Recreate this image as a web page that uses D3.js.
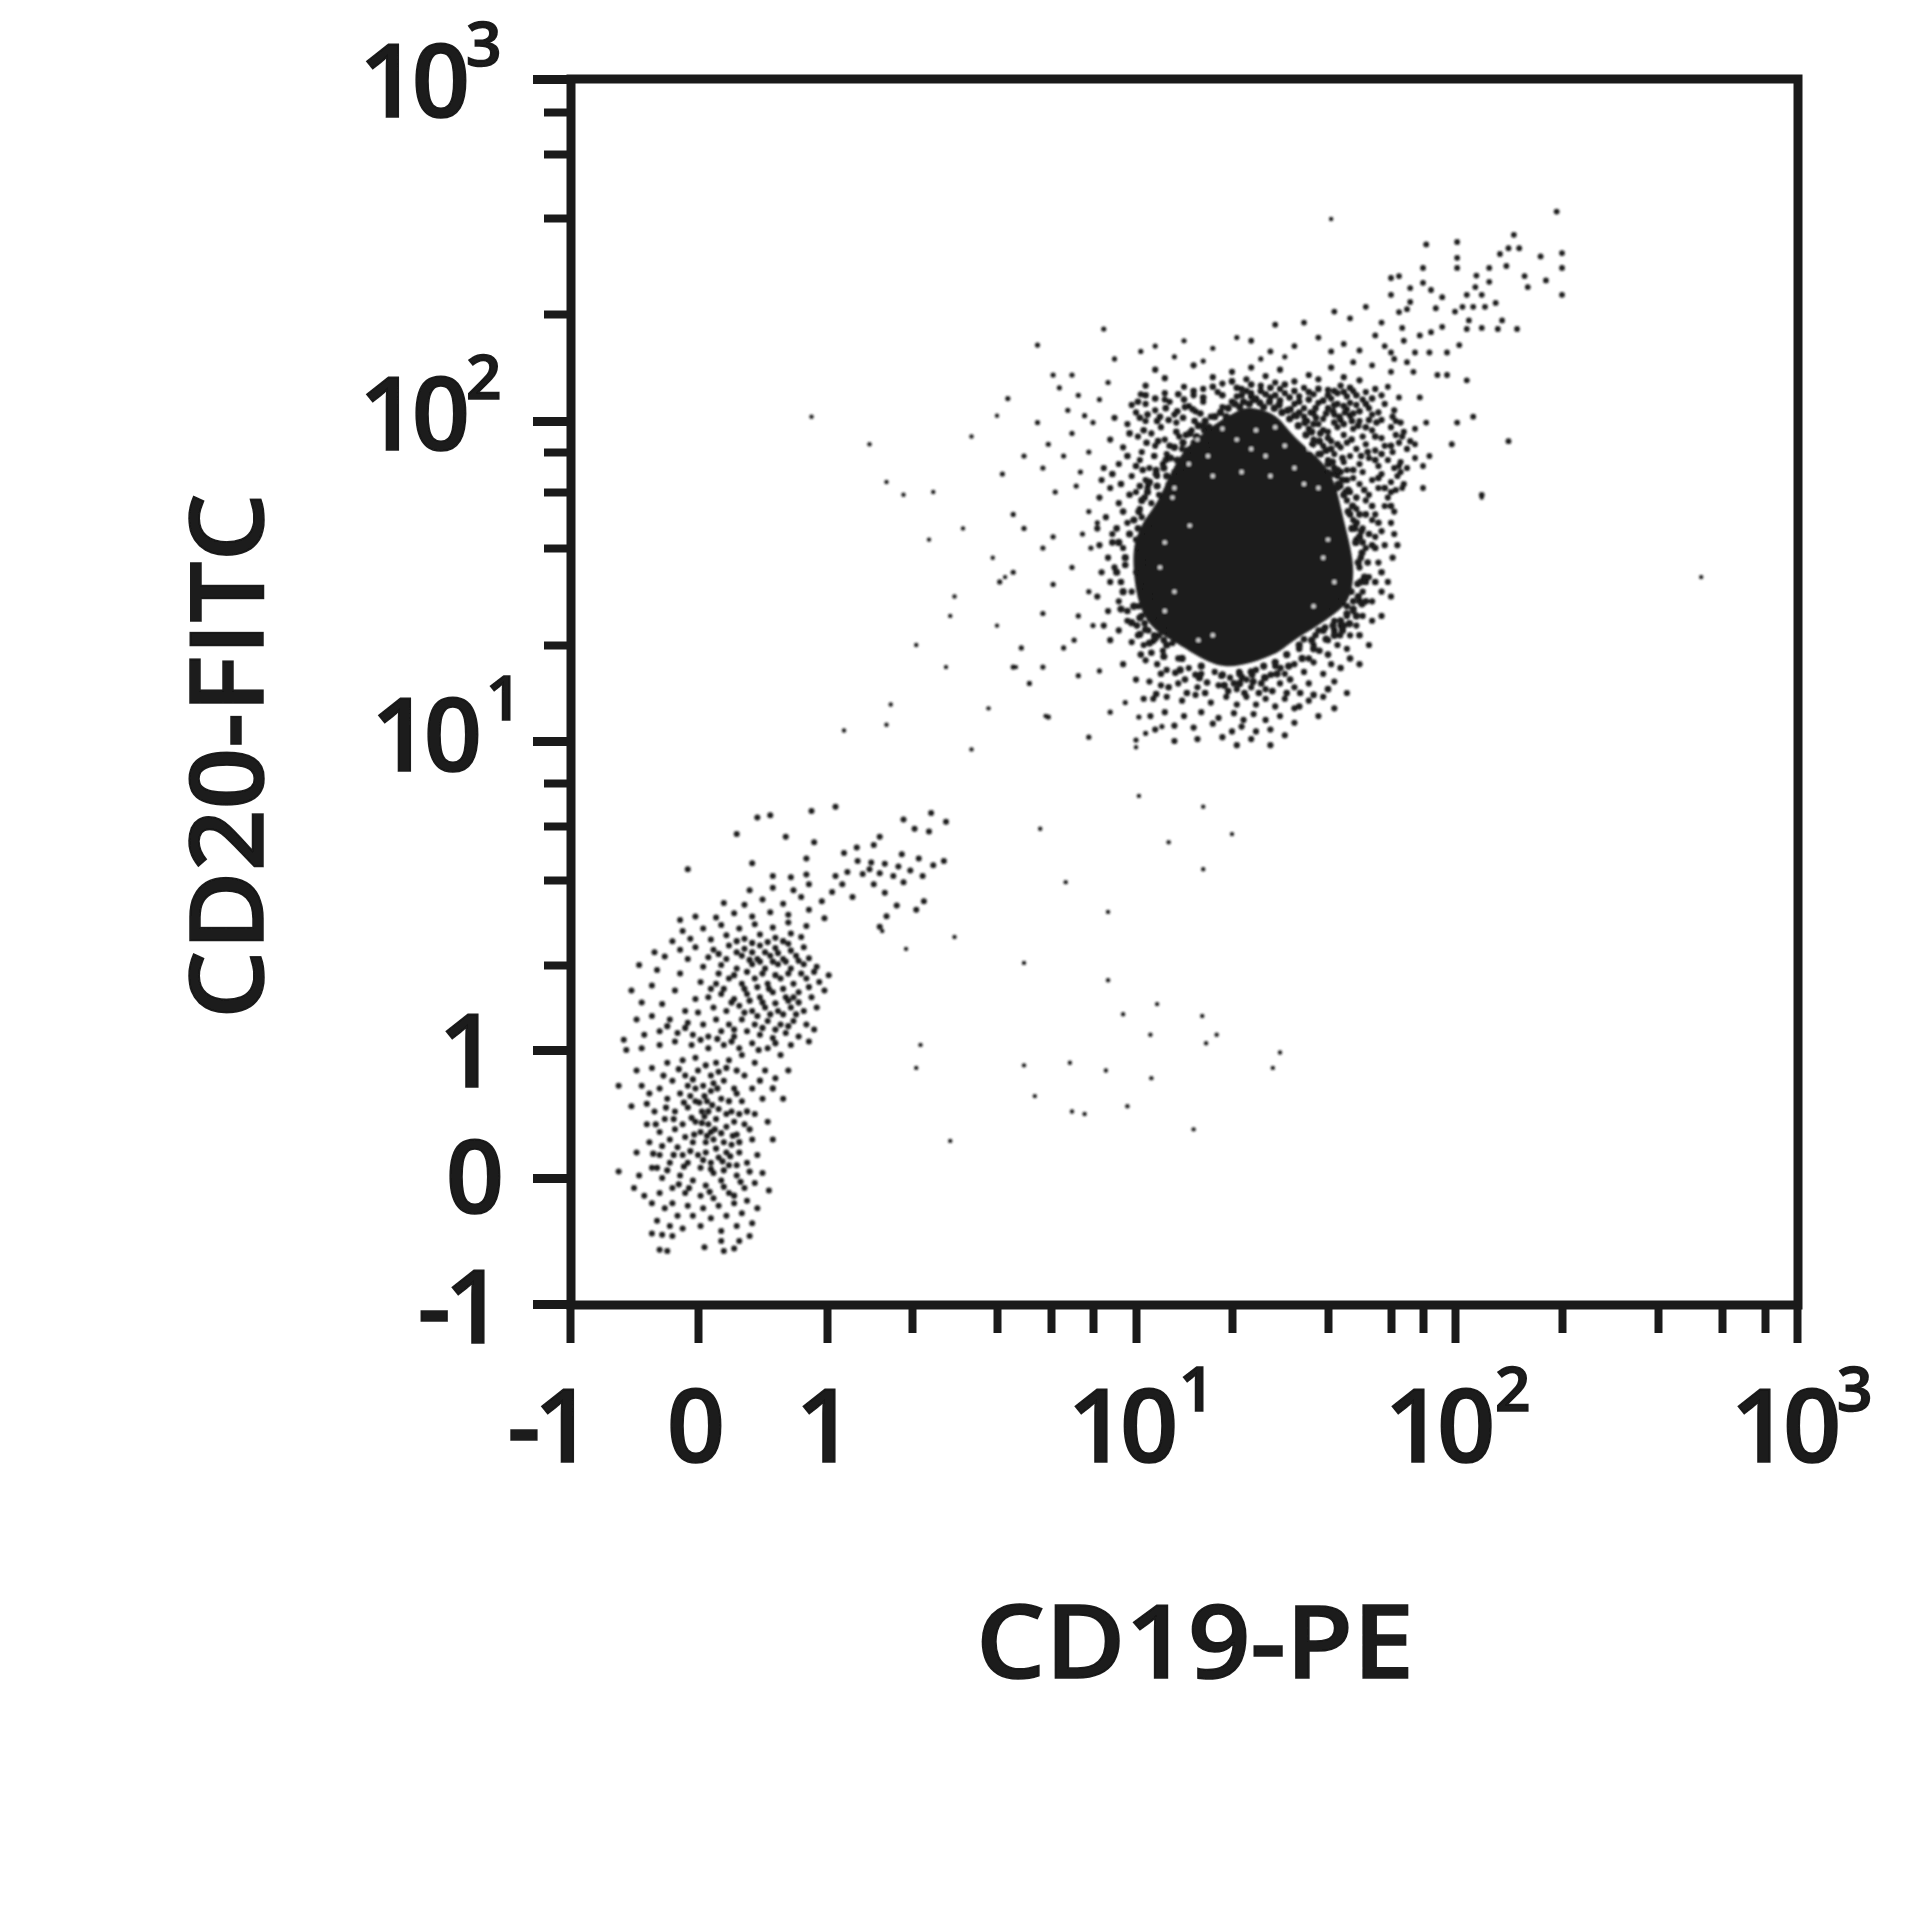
<!DOCTYPE html>
<html><head><meta charset="utf-8"><style>html,body{margin:0;background:#fff}svg{display:block}</style>
<script src="https://cdn.jsdelivr.net/npm/d3@7"></script></head><body><script>
const xTitle="CD19-PE", yTitle="CD20-FITC";
const axisValues=[-1,0,1,2,4,6,8,10,20,40,60,80,100,200,400,600,800,1000];
const majorTicks=[-1,0,1,10,100,1000];
const minorTicks=[2,4,6,8,20,40,60,80,200,400,600,800];
const coreX=[19.9,23,28.5,33,40.3,45,48,46,40.3,33,28.5,19.2,14.2,11.6,10.3,9.9,10.6,12.2,14.8,17.4];
const coreY=[106,112,106,90,70,50,35,29,25.6,21,19,17.8,20.4,24,29,39.4,48,56.5,79,94];
const coreGaps=[[19,95],[21,88],[24,82],[27,78],[31,84],[33,72],[15.5,74],[18,68],[14,62],[22,70],[28,68],[15.6,48],[13,42],[12.5,36],[14,31],[13,27],[39,38],[40,43],[37,28],[42,33],[18,22],[16.5,21],[35,64],[13.8,58],[25,94],[29,96],[16.4,88],[17.5,78],[36,82],[38,62]];
const coreEdge=[[9.4,31],[9.1,35],[9.5,38],[9.2,42],[9.7,45],[9.9,50],[10.3,53],[10.6,57],[11.2,60],[11.4,65],[12.2,63],[12.1,69],[12.9,72],[13.2,68],[13.6,77],[14.3,76],[14,83],[14.9,86],[15.4,81],[15.6,92],[16.3,90],[16.5,97],[17.2,100],[17.6,96],[18.2,104],[18.8,108],[19.4,104],[19.6,112],[20.6,116],[21.6,113],[22.4,118],[23.6,116],[24.6,120],[25.8,117],[26.6,113],[27.8,118],[28.8,112],[29.8,115],[30.4,108],[31.6,110],[32,102],[33.4,105],[33.8,97],[35.2,99],[35.4,91],[36.6,93],[36.8,85],[38.2,87],[38.4,79],[39.6,81],[40,74],[41.4,75],[41.6,69],[43,71],[43.2,64],[44.6,66],[45,59],[46.4,61],[46.4,53],[47.8,55],[47.6,47],[49,49],[48.8,42],[50,44],[49.6,37],[50.8,39],[50.4,33],[51.6,34],[49.6,30],[50.8,28.5],[48,27.4],[49,26],[46,26.4],[46.8,24.4],[44,25],[44.6,23],[41.6,24],[42,22],[39,23],[39.6,21.2],[36.6,21],[37,19.6],[34,20],[34.6,18.6],[31.4,19],[31.8,17.8],[29,18.2],[29.4,17],[26.6,17.8],[26.8,16.6],[24,17.2],[24.4,16.2],[21.6,17],[21.6,16],[19,16.9],[19.2,15.8],[16.8,17.8],[16.6,16.6],[14.8,18.6],[14.6,17.4],[13.2,20],[12.9,18.8],[12,21.4],[11.4,20.4],[11,23.2],[10.4,22.2],[10.4,25.6],[9.8,24.6],[9.9,28],[9.3,27.4]];
const halo=[[12,148],[16,152],[20,146],[24,150],[30,148],[36,143],[41,150],[13,140],[18,141],[23,139],[27,142],[33,137],[38,139],[45,141],[50,138],[11,133],[15,132],[19,135],[22,130],[26,133],[30,130],[35,131],[40,129],[44,133],[48,128],[55,130],[10.5,125],[13,126],[16,124],[18.5,127],[21,123],[24,126],[28,122],[31,126],[34,123],[37,125],[41,121],[46,123],[51,120],[57,124],
[11,116],[13.5,118],[15.5,114],[17,118],[19,113],[33,116],[35,112],[38,117],[40,112],[43,116],[46,111],[49,115],[53,112],[58,116],[62,110],[10,108],[12,110],[14,106],[16.2,109],[17.8,104],[35,104],[37,107],[39,102],[42,106],[44,101],[47,105],[50,100],[54,106],[57,101],[61,104],[66,99],
[9.6,98],[11,100],[12.6,96],[14.2,99],[15.8,94],[17,97],[36,95],[38,98],[40,93],[43,96],[45,91],[48,95],[51,90],[54,94],[57,89],[60,96],[63,91],[68,93],[10.2,90],[11.6,92],[13,88],[14.5,90],[16,86],[17.4,84],[37,88],[39,84],[41,87],[44,83],[46,86],[49,82],[52,85],[55,81],[58,84],[61,80],[65,86],[70,82],[9.4,83],[10.6,80],[12,84],[13.2,79],[14.8,82],[16,77],
[38,79],[40,76],[42,79],[45,75],[47,78],[50,74],[53,77],[56,73],[59,76],[62,72],[66,75],[9.2,74],[10.4,76],[11.4,72],[12.8,74],[14,70],[15.2,72],[40,70],[43,68],[46,71],[48,67],[51,70],[54,66],[57,69],[60,65],[64,68],[68,64],[9.8,68],[11,66],[12.2,68],[13.4,64],[44,63],[47,60],[50,64],[53,59],[56,62],[59,58],[63,61],[8.8,62],[10,60],[11.2,62],[12.4,59],[9.2,56],[10.4,54],[11.6,56],[46,57],[49,54],[52,57],[55,52],[58,55],[62,53],
[8.6,51],[9.6,49],[10.6,51],[11.4,47],[48,50],[51,47],[54,50],[57,46],[60,49],[8.9,45],[10,43],[11,44],[9.4,40],[10.4,39],[8.7,38],[49,43],[52,40],[55,44],[58,41],[61,38],[50,36],[53,34],[56,37],[59,33],[9,36],[10,35],[10.8,37],[8.8,33],[9.8,31],[10.9,32],[9.2,29],[10.3,28],[11.5,30],[51,31],[54,29],[57,31],[48,27],[51,26],[54,25],[44,29],[46,26],[8.7,27],[9.6,25],[10.6,26],[11.6,27],[12.3,25],[9.2,23],[10.2,22],[11.3,23],[12.4,22],[13.4,23],[44,24],[47,22],[42,25],[49,24],
[38,23],[40,21],[43,20],[37,20],[46,19.6],[9.8,20.6],[10.8,20],[11.8,20.8],[12.8,19.4],[13.8,20.4],[14.4,18.6],[11,18.4],[12.2,18],[13.2,17.4],[15.5,17.6],[16.8,17],[18.2,17.2],[19.8,16.6],[21.5,17.2],[23,16.4],[25,17.4],[27,16.6],[29,17.8],[31,17],[33,18],[35,17.2],[37,18.2],[39,17],[41,18],[42,16.2],[36,16],[33,15.6],[30,16],[27,15.4],[24,15.6],[21,15.4],[18.6,15.8],[16.4,15.6],[14.4,16],[12.6,15.8],[11.4,16.2],[11.8,14.4],[13.2,14.6],[14.8,14.2],[16.2,14.8],[17.8,14],[19.4,14.6],[21,13.8],[23,14.6],[25,13.8],[27,14.4],[29,13.6],[31,14.4],[33,13.4],[36,14.2],[39,14.6],[13,13],[15,12.6],[16.8,13],[18.6,12.4],[20.4,12.9],[22.4,12.2],[24.5,12.8],[27,12.2],[30,12.6],[33,11.9],[14,11.6],[16,11.4],[18,11.8],[20,11],[22,11.5],[25,11],[28,11.2],[16.4,10.2],[19,10.4],[21,9.8],[24,10.2],
[13,120],[17,130],[29,136],[43,126],[52,127],[47,117],[56,108],[63,100],[67,90],[72,87],[66,70],[70,72],[60,60],[9.8,115],[9,103],[8.8,88],[8.5,72],[8.4,66],[8.3,58],[8.2,47],[8.3,41],[8.4,35],[8.2,30],[8.5,24],[8.8,21],[9.4,18],[10,16.4],[10.8,14.4],[62,45],[64,41],[60,30],[57,26],[53,20],[50,18],[46,15],[42,13.4],[38,12.6],[11.5,12.6],[12,11.2],[14,10],[28,9.8],[31,10.6]];
const shell=[[15.1,113],[15.9,111],[16.7,107],[14.3,109],[13.1,112],[12.5,104],[13.4,101],[14.9,103],[16.1,100],[17.1,94],[15.2,91],[14.2,93],[13.5,84],[12.3,87],[11.1,86],[10.8,94],[11.9,78],[13.1,76],[12.1,71],[10.7,71],[10,73],[11.3,64],[10.4,63],[9.7,59],[10.9,58],[10.2,47],[9.4,53],[9.1,47],[8.9,42],[9.5,36.5],[9.3,33],[9.9,28],[10.9,24.5],[11.9,22],[12.9,21],[10.1,24],[9.6,27],[10.5,19],[11.6,19.2],[12.6,17],[14.1,17.1],[15.1,16.4],[16.2,16.9],[17.4,16.1],[18.9,16.8],[20.4,16],[22.1,16.6],[24.2,16.9],[26.1,16],[28.1,16.9],[30.1,17.6],[32.1,16.4],[34.2,15],[31.4,15],[28.4,15.2],[25.6,15],[22.6,15],[19.6,15.2],[17.2,15],[15.3,15],[13.4,15.6],[12.1,14.9],
[34,19.6],[36,18.6],[38.2,19.4],[40,19],[35,21.2],[37.4,22],[39.4,23.6],[42,23],[43.8,22],[45,24],[41,26.8],[46,28],[48,29],[50,29],[47.4,31],[49.4,32.6],[52,33],[50.4,38],[52.6,37],[54,41],[51,42],[53,45],[50.6,46],[48.6,47],[50,52],[52,52],[54,55],[51.5,61],[49,58],[47,52],[45.6,60],[43,62],[46,66],[48,71],[44,70],[42,72],[44.6,77],[41,82],[43,85],[40,89],[38.4,92],[37,98],[35.6,100],[36.4,108],[34,108],[33,105],[32.2,111],[37.4,112],[39.6,107],[41.6,109],[43.6,104],[45.4,108],[47.6,100],[49.6,97],[52,96],[53,101],[55.4,99],[55,90],[52.6,80],[50.5,78],[55,76],[57,79],[60,84],[47.5,88],[45,98],[42,99],[39,94],[37.5,103],
[22,124],[25,121],[27,125],[30,119],[32,122],[29,124],[20,118],[23,128],[26,128],[24,123],[21,131],[19,124],[17,122],[15,120],[14.4,125],[16,128],[18,132],[20,137],[24,134],[28,131],[31,134],[33,128],[36,127],[38,130],[40,124],[42,128],[45,127],[47,131],[49,124],[52,116],[54,121],[50,109],[48,107],[45,114],[42,115],[39,119],[36,120],[34,118],[12,121],[11,124],[10.2,118],[10.4,103],[11.2,106],[12.2,100],[9.7,92],[9.6,78],[8.9,69],[9.3,64],[56,67],[58,62],[60,55],[56,49],[55,40],[57,35],[55,33],[52,29],[50,22],[47,18.6],[44,17.6],[40,15.4],[37,14.8],[34,13.6]];
const plume=[[195,420],[155,365],[82,345],[102,350],[102,317],[150,337],[160,337],[142,325],[180,320],[200,327],[200,296],[200,240],[102,296],[80,296],[132,296],[165,279],[60,275],[65,279],[168,256],[132,267],[80,265],[72,254],[119,256],[111,240],[60,240],[52,215],[88,212],[138,223],[128,215],[107,215],[117,215],[65,204],[144,194],[113,194],[57,192],[67,187],[85,183],[140,186],[111,186],[158,186],[125,187],[60,164],[75,164],[95,164],[84,164],[104,171],[50,166],[89,143],[95,143],[111,138],[74,146],[60,146],[78,122],[59,132],[82,99],[102,99],[75,95],[65,122],[117,104],[150,87],[98,85],[75,85],[84,78],[75,77],[65,73],[80,73],[80,62],[125,59],[58,62],[67,62],
[41,165],[45,172],[38,178],[33,170],[28,165],[24,175],[29,190],[35,192],[42,205],[47,196],[55,180],[48,155],[54,152],[62,158],[70,155],[58,170],[68,175],[78,180],[92,188],[100,205],[72,225],[92,235],[85,250],[70,210],[125,240],[120,280],[148,300],[185,270]];
const upperLeft=[[8.5,186],[5.5,171],[6.1,143],[7,143],[6.4,131],[4.4,121],[8.7,136],[7.3,124],[8.3,120],[5.5,99],[8,99],[7,92],[5.9,85],[5,78],[5.7,72],[4.2,69],[6.2,60],[7.8,53],[4.6,52],[8.2,49],[5,47],[6.1,44],[5.7,40],[7,36],[4.6,35],[4.1,33],[6.1,32.5],[7.3,26],[5.7,26.5],[4.9,19.7],[6.6,19.7],[4.6,17.7],[5.7,17.7],[5.2,16],[5.9,12.5],[7.8,10.4],[8.3,17.3],[7.3,16.8],[10.3,12.5],[10,10.1],[12.7,11.5],[6.8,110],[7.6,105],[6.6,78],[7.4,70],[7.8,80],[7.2,63],[7.5,45],[7.9,40],[7.8,31],[8,24],[7.1,21],[9.5,14],[8.8,13],[11,10.8],[9,158],[10.5,165],[12,170],[15,175],[18,168],[21,178],[14,160],[17,156],[26,158],[31,160]];
const lowerLeft=[[0.07,0.6],[0.1,0.68],[0.03,0.52],[0.14,0.46],[-0.02,0.7],[0.08,0.42],[0.18,0.62],[-0.08,0.55],[0.02,0.36],[0.12,0.3],[0.22,0.4],[-0.12,0.42],[-0.04,0.28],[0.06,0.2],[0.16,0.16],[0.26,0.26],[-0.16,0.24],[-0.08,0.12],[0.02,0.08],[0.12,0.04],[0.24,0.1],[0.32,0.2],[-0.22,0.12],[-0.14,0.02],[-0.04,-0.02],[0.06,-0.06],[0.18,-0.02],[0.3,0.02],[0.38,0.12],[-0.28,0],[-0.2,-0.08],[-0.1,-0.12],[0.02,-0.14],[0.12,-0.16],[0.24,-0.12],[0.36,-0.08],[-0.3,0.18],[-0.36,0.08],[-0.38,0.28],[-0.3,0.36],[-0.22,0.3],[-0.26,0.46],[-0.34,0.52],[-0.4,0.42],[-0.18,0.52],[-0.24,0.62],[-0.14,0.66],[-0.3,0.7],[-0.38,0.66],[-0.44,0.72],[-0.2,0.76],[-0.1,0.8],[0,0.84],[0.1,0.8],[0.2,0.76],[0.28,0.7],[0.26,0.52],[0.34,0.6],[0.36,0.42],[0.3,0.34],[0.42,0.3],[0.44,0.5],[0.42,0.7],[0.36,0.8],[0.5,0.62],[0.54,0.44],[0.46,0.18],[0.5,0.04],[0.44,-0.04],[0.14,0.9],[0.24,0.92],[0.34,0.96],[0.44,0.9],[0.52,0.84],[0.6,0.78],[-0.02,0.94],[-0.12,0.92],[-0.24,0.9],[-0.36,0.86],[-0.48,0.84],[0.04,0.72],[-0.06,0.64],[0.05,0.48],[0.16,0.54],[-0.02,0.44],[0.1,0.36],[0.2,0.28],[-0.1,0.32],[0,0.18],[0.1,0.12],[-0.18,0.38],[-0.12,0.18],[0.22,0.2],[0.3,0.1],[-0.02,0.6],[0.12,0.74],[0.22,0.5],[0.28,0.44],[-0.08,0.72],[0.06,0.28],[-0.3,-0.12],[-0.2,-0.2],[-0.08,-0.22],[0.04,-0.24],[0.16,-0.22],[0.28,-0.2],[0.38,-0.18],[-0.26,-0.24],[-0.16,-0.3],[-0.04,-0.3],[0.1,-0.32],[0.22,-0.3],[0.34,-0.28],[0.46,-0.24],[-0.36,-0.2],[-0.42,-0.14],[-0.46,0.02],[-0.48,0.2],[-0.62,0.72],[-0.62,0.05],[-0.52,0.56],[-0.5,-0.08],
[-0.32,-0.34],[-0.22,-0.38],[-0.12,-0.4],[0.02,-0.38],[0.18,-0.42],[0.3,-0.38],[0.42,-0.36],[-0.36,-0.44],[-0.28,-0.45],[-0.2,-0.46],[0.18,-0.5],[0.32,-0.5],[0.4,-0.46],[-0.24,-0.58],[-0.3,-0.57],[0.05,-0.55],[0.2,-0.58],[0.28,-0.56],[0.55,-0.1],[0.58,0.3],[0.66,0.62],[0.7,0.84],
[0.08,1.02],[0.2,1.06],[0.32,1.02],[0.42,1.08],[0.54,1.02],[0.64,0.96],[0.72,1.06],[-0.05,1.06],[-0.18,1.1],[-0.3,1.06],[-0.44,1.02],[-0.56,1],[-0.58,1.12],[-0.42,1.18],[-0.3,1.22],[-0.16,1.2],[-0.04,1.18],[0.08,1.16],[0.18,1.22],[0.28,1.16],[0.38,1.22],[0.48,1.18],[0.58,1.14],[0.68,1.2],[0.78,1.16],[0.86,1.1],[-0.08,1.32],[0.04,1.3],[0.14,1.36],[0.24,1.3],[0.34,1.36],[0.44,1.3],[0.54,1.34],[0.64,1.3],[0.74,1.34],[0.84,1.3],[0.9,1.24],[-0.22,1.36],[-0.36,1.4],[-0.48,1.36],[-0.1,1.46],[0,1.44],[0.12,1.5],[0.22,1.46],[0.32,1.52],[0.42,1.46],[0.52,1.5],[0.62,1.46],[0.72,1.5],[0.82,1.46],[0.92,1.5],[-0.28,1.54],[-0.44,1.56],[-0.02,1.6],[0.08,1.62],[0.18,1.66],[0.28,1.6],[0.38,1.66],[0.48,1.62],[0.58,1.68],[0.68,1.62],[0.78,1.68],[0.88,1.62],[0.98,1.7],[-0.18,1.7],[-0.36,1.76],[-0.52,1.7],[0.02,1.8],[0.14,1.78],[0.24,1.84],[0.34,1.78],[0.44,1.84],[0.54,1.78],[0.64,1.84],[0.74,1.78],[0.84,1.84],[0.94,1.8],[1.02,1.88],[-0.14,1.9],[-0.32,1.94],[-0.46,2],[0.04,1.98],[0.18,2],[0.3,1.96],[0.42,2.02],[0.52,1.96],[0.62,2.02],[0.72,1.96],[0.82,2.02],[0.92,1.98],[-0.08,2.14],[0.08,2.18],[0.22,2.14],[0.34,2.22],[0.46,2.14],[0.56,2.22],[0.66,2.14],[0.76,2.22],[0.86,2.16],[-0.34,2.3],[-0.26,2.2],[-0.14,2.36],[-0.02,2.42],[0.12,2.36],[0.24,2.46],[0.36,2.38],[0.48,2.46],[0.6,2.4],[0.7,2.5],[0.82,2.42],[-0.2,2.56],[-0.06,2.62],[0.1,2.6],[0.22,2.7],[0.36,2.62],[0.48,2.72],[0.6,2.64],[0.72,2.74],[0.8,2.66],[-0.12,2.8],[0.04,2.86],[0.18,2.94],[0.32,2.86],[0.44,2.96],[0.58,2.88],[0.7,3],[0.84,2.92],[-0.14,3.06],[-0.02,3.14],[0.14,3.12],[0.28,3.22],[0.42,3.14],[0.56,3.24],[0.7,3.18],[0.86,3.3],[0.2,3.46],[0.36,3.42],[0.5,3.54],[0.66,3.44],[0.8,3.6],[0.96,3.5],[0.98,3.1],[0.4,3.76],[0.58,3.82],[0.74,3.76],[0.86,3.9],[0.58,4.15],[0.72,4.1],[0.84,4.2],
[1.06,3.72],[1.18,3.9],[1.3,3.6],[1.1,4.15],[1.24,4.3],[1.42,4.22],[1.55,3.9],[1.68,3.7],[1.5,4.4],[1.62,4.25],[1.78,4.15],[1.9,3.95],[1.36,4.7],[1.52,4.65],[1.68,4.6],[1.84,4.5],[1.98,4.35],[2.25,4.15],[1.2,5],[1.35,5.2],[1.55,5.3],[1.88,4.95],[2.16,4.8],[2.5,4.55],[2.75,4.7],[1.62,5.6],[2.06,5.9],[2.4,5.8],[2.8,6.2],[2.45,6.6],[1.9,6.3],[1.1,6.9],[0.88,6.7],[0.68,5.6],[0.3,5.7],[0.46,6.4],[0.56,6.5],[0.9,5.4],[0.84,4.8],[0.42,4.62],[-0.08,4.4],[1.7,3.15],[1.82,3.4],[2.1,3.3],[2.28,3.5],[1.62,2.9]];
const lowerDense=[[0.05,0.64],[0.11,0.57],[0.01,0.59],[-0.05,0.47],[0.15,0.7],[0.08,0.52],[0.13,0.38],[0.03,0.43],[-0.03,0.34],[0.07,0.33],[0.18,0.35],[0.14,0.23],[0.04,0.14],[-0.06,0.21],[-0.11,0.09],[0.1,0.07],[0.2,0.06],[0.19,0.13],[0.25,0.17],[0.27,0.33],[0.32,0.28],[0.24,0.6],[0.3,0.66],[0.32,0.5],[0.38,0.52],[0.4,0.38],[0.16,0.83],[0.06,0.88],[-0.04,0.77],[-0.15,0.85],[-0.11,0.59],[-0.19,0.46],[-0.25,0.55],[-0.28,0.25],[-0.19,0.18],[-0.24,0.06],[-0.15,-0.05],[-0.07,-0.08],[0.09,-0.11],[0.2,-0.07],[0.33,-0.03],[0.4,0.05],[0.28,-0.14],[-0.32,0.08],[-0.35,0.19],[-0.33,0.42],[-0.4,0.58],[-0.27,0.8],[0.22,0.86],[0.3,0.84],[0.48,0.76],[0.58,0.7],[0.47,1],[0.6,1.08],[0.26,1.1],[0.15,1.13],[0.02,1.12],[-0.1,1.26],[-0.24,1.28],
[0.6,1.55],[0.66,1.72],[0.55,1.72],[0.7,1.58],[0.74,1.62],[0.5,1.56],[0.46,1.74],[0.4,1.58],[0.36,1.72],[0.6,1.88],[0.7,1.9],[0.8,1.9],[0.5,1.9],[0.38,1.92],[0.78,1.56],[0.86,1.74],[0.9,1.92],[0.66,1.42],[0.76,1.42],[0.56,1.42],[0.46,1.4],[0.36,1.44],[0.26,1.56],[0.2,1.72],[0.28,1.88],[0.58,2.08],[0.68,2.08],[0.78,2.1],[0.48,2.08],[0.4,2.12],[0.52,2.3],[0.62,2.28],[0.72,2.34],[0.42,2.3],[0.3,2.3],[0.16,2.26],[0.54,2.54],[0.66,2.56],[0.42,2.52],[0.3,2.56],[0.16,1.9],[0.1,1.72],[0.28,1.24],[0.7,1.28],[0.6,1.24],[0.5,1.26]];
const isolated=[[41,398],[535,34],[0.88,104],[1.5,85],[1.7,65],[1.9,59],[2.5,60],[3.9,38],[4.3,34],[2.1,20],[2.8,17.7],[4.7,17.7],[5.8,12.6],[3.8,13.4],[1.7,11.7],[1.2,11.1],[1.75,13.8],[3.4,9.6],[13.4,5.4],[17,4.4],[6.7,3.95],[8.7,3.25],[5,2.05],[8.7,1.82],[12.2,1.54],[9.4,1.42],[11.5,1.18],[17.3,1.08],[18.4,1.18],[16.9,1.4],[30,0.98],[28.5,0.86],[11.6,0.78],[8.6,0.84],[6.9,0.9],[5,0.88],[5.4,0.64],[7,0.52],[7.6,0.5],[9.6,0.56],[16,0.38],[2.9,0.29],[2.1,0.86],[2.2,1.06],[3,2.66],[1.65,2.8],[1.93,2.38],[5.6,5.9],[20,5.7],[10.3,7.4],[17,6.9],[10,9.7],[125,58],[150,87],[2.9,26],[4,24],[3,30],[2.4,43],[3.2,47],[3.4,90],[4,105]];
const ink="#1a1a1a", font="'Open Sans','Noto Sans',sans-serif";
const W=1920,H=1920;
const xPixels=[570,698,827,912,997,1051,1093,1136,1232,1328,1391,1423,1455,1562,1658,1722,1765,1797];
const yPixels=[1304,1178,1050,965,880,826,783,741,645,548,492,452,421,314,218,154,112,79];
const x=d3.scaleLinear().domain(axisValues).range(xPixels);
const y=d3.scaleLinear().domain(axisValues).range(yPixels);
const svg=d3.select("body").append("svg").attr("width",W).attr("height",H).style("background","#fff");
const defs=svg.append("defs");
defs.append("filter").attr("id","soft").attr("x","-5%").attr("y","-5%").attr("width","110%").attr("height","110%").append("feGaussianBlur").attr("stdDeviation",0.9);
defs.append("filter").attr("id","softText").attr("x","-5%").attr("y","-5%").attr("width","110%").attr("height","110%").append("feGaussianBlur").attr("stdDeviation",0.7);
// cells
const clouds=svg.append("g").attr("fill",ink).attr("filter","url(#soft)");
clouds.append("path").attr("d",d3.line().x(i=>x(coreX[i])).y(i=>y(coreY[i])).curve(d3.curveCatmullRomClosed)(coreX.map((_,i)=>i)));
const dots=[[halo,3.1],[shell,3.3],[coreEdge,3.6],[upperLeft,2.6],[plume,2.9],[lowerLeft,3],[lowerDense,3.1],[isolated,2.2]];
dots.forEach(([pts,r])=>clouds.append("g").selectAll("circle").data(pts).join("circle").attr("cx",d=>x(d[0])).attr("cy",d=>y(d[1])).attr("r",r));
clouds.append("g").attr("fill","#fff").selectAll("circle").data(coreGaps).join("circle").attr("cx",d=>x(d[0])).attr("cy",d=>y(d[1])).attr("r",2.2).attr("opacity",0.8);
// axes
function ticks(axis,vals,len,sw){return g=>{g.call(axis.tickValues(vals).tickSize(len).tickFormat(""));g.select(".domain").remove();g.selectAll("line").attr("stroke",ink).attr("stroke-width",sw);};}
svg.append("g").attr("transform","translate(571,0)").call(ticks(d3.axisLeft(y),majorTicks,38,9));
svg.append("g").attr("transform","translate(571,0)").call(ticks(d3.axisLeft(y),minorTicks,27,8));
svg.append("g").attr("transform","translate(0,1305)").call(ticks(d3.axisBottom(x),majorTicks,38,8));
svg.append("g").attr("transform","translate(0,1305)").call(ticks(d3.axisBottom(x),minorTicks,28,8));
svg.append("rect").attr("x",x(-1)+1).attr("y",y(1000)).attr("width",x(1000)-x(-1)).attr("height",y(-1)-y(1000)+1).attr("fill","none").attr("stroke",ink).attr("stroke-width",9);
// labels
const T=svg.append("g").attr("fill",ink).attr("stroke",ink).attr("stroke-width",1.6).attr("font-family",font).attr("font-weight",600).attr("font-size",102).attr("filter","url(#softText)");
function lab(px,py,base,sup,anchor,supDx){
  const t=T.append("text").attr("x",px).attr("y",py).attr("text-anchor",anchor).attr("letter-spacing",base.length>1?-6:0).text(base);
  if(sup) T.append("text").attr("x",supDx).attr("y",py-51).attr("font-size",62).text(sup);
  return t;
}
const xLabels=[["-1",null,-23],["0",null,-2],["1",null,-2],["10","1",-16,43],["10","2",-18,40],["10","3",-14,40]];
xLabels.forEach((l,i)=>lab(x(majorTicks[i])+l[2],1462,l[0],l[1],"middle",x(majorTicks[i])+(l[3]||0)));
const yLabels=[["-1",null,497],["0",null,504],["1",null,497],["10","1",476,486],["10","2",464,466],["10","3",464,466]];
const yBase=[1343,1213,1087,771,450,117];
yLabels.forEach((l,i)=>lab(l[2],yBase[i],l[0],l[1],"end",l[3]));
T.append("text").attr("x",1195).attr("y",1678).attr("text-anchor","middle").attr("textLength",438).attr("lengthAdjust","spacingAndGlyphs").text(xTitle);
T.append("text").attr("transform","translate(263,756) rotate(-90)").attr("text-anchor","middle").attr("textLength",526).attr("lengthAdjust","spacingAndGlyphs").text(yTitle);
</script></body></html>
